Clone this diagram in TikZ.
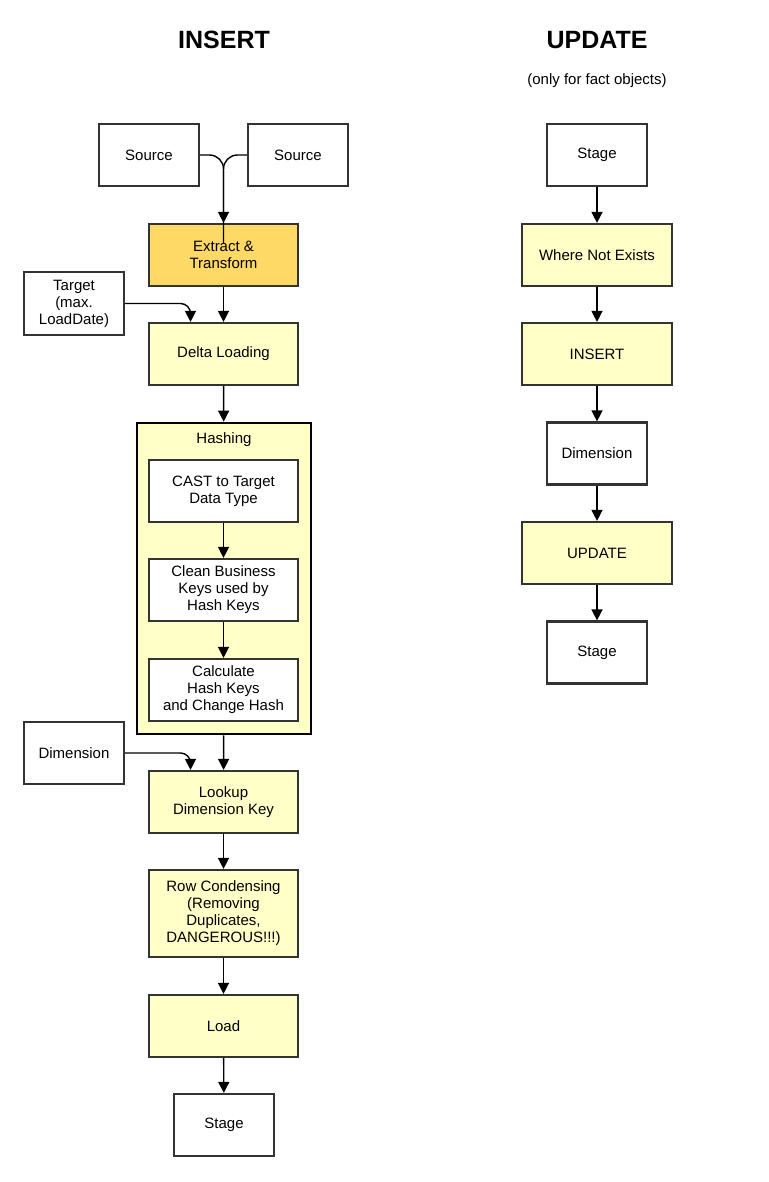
\documentclass[tikz,border=0pt]{standalone}
\usepackage{fontspec}
\setmainfont{Liberation Sans}
\usetikzlibrary{arrows.meta}
\definecolor{ly}{HTML}{FFFFC8}
\definecolor{og}{HTML}{FFD966}
\definecolor{bd}{HTML}{333333}
\begin{document}
\begin{tikzpicture}[x=1pt,y=-1pt,
  box/.style={draw=bd,line width=2.2pt,minimum height=62pt,align=center,font=\fontsize{15}{17}\selectfont,inner sep=2pt},
  wbox/.style={box,fill=white,minimum width=100pt},
  ybox/.style={box,fill=ly,minimum width=149pt},
  obox/.style={box,fill=og,minimum width=149pt},
  arr/.style={draw=black,line width=1.4pt,-{Triangle[length=11pt,width=11pt]}},
  ttl/.style={font=\fontsize{25}{30}\selectfont\bfseries}]
\useasboundingbox[fill=white] (0,0) rectangle (768,1182);
% titles
\node[ttl] (tins) at (224,40) {INSERT};
\node[ttl] (tupd) at (597,40) {UPDATE};
\node[font=\fontsize{15}{17}\selectfont] (sub) at (597,81) {(only for fact objects)};
% hashing container
\node[draw=black,line width=2.6pt,fill=ly,minimum width=174pt,minimum height=311pt] (hash) at (224,578.5) {};
\node[font=\fontsize{15}{17}\selectfont] (hlab) at (224,440) {Hashing};
% insert column
\node[wbox] (s1) at (149,155) {Source};
\node[wbox] (s2) at (298,155) {Source};
\node[obox] (et) at (223.5,255) {Extract \&\\Transform};
\node[wbox,minimum height=63pt] (tg) at (74,303.5) {Target\\(max.\\LoadDate)};
\node[ybox] (dl) at (223.5,354) {Delta Loading};
\node[wbox,minimum width=149pt,fill=white] (cast) at (223.5,491) {CAST to Target\\Data Type};
\node[wbox,minimum width=149pt,fill=white] (clean) at (223.5,590) {Clean Business\\Keys used by\\Hash Keys};
\node[wbox,minimum width=149pt,fill=white] (calc) at (223.5,690) {Calculate\\Hash Keys\\and Change Hash};
\node[wbox] (dim) at (74,753) {Dimension};
\node[ybox] (lk) at (223.5,802) {Lookup\\Dimension Key};
\node[ybox,minimum height=87pt] (rc) at (223.5,913.5) {Row Condensing\\(Removing\\Duplicates,\\DANGEROUS!!!)};
\node[ybox] (ld) at (223.5,1026) {Load};
\node[wbox] (st) at (224,1125) {Stage};
% update column
\node[wbox] (us) at (597,155) {Stage};
\node[ybox,minimum width=150pt] (wne) at (597,255) {Where Not Exists};
\node[ybox,minimum width=150pt] (uins) at (597,354) {INSERT};
\node[wbox] (udim) at (597,453.5) {Dimension};
\node[ybox,minimum width=150pt] (uupd) at (597,553) {UPDATE};
\node[wbox] (ust) at (597,652.5) {Stage};
% connectors insert
\draw[arr,rounded corners=14pt] (s1.east) -| (et.north);
\draw[line width=1.4pt,rounded corners=14pt] (s2.west) -| ([yshift=-20pt]et.north);
\draw[arr] (et) -- (dl);
\coordinate (tgin) at ([xshift=-33pt]dl.north);
\draw[arr,rounded corners=10pt] (tg.east) -| (tgin);
\draw[arr] (dl) -- (hash);
\draw[arr] (cast) -- (clean);
\draw[arr] (clean) -- (calc);
\draw[arr] (hash) -- (lk);
\coordinate (dimin) at ([xshift=-33pt]lk.north);
\draw[arr,rounded corners=10pt] (dim.east) -| (dimin);
\draw[arr] (lk) -- (rc);
\draw[arr] (rc) -- (ld);
\draw[arr] (ld) -- (st);
% connectors update
\draw[arr] (us) -- (wne);
\draw[arr] (wne) -- (uins);
\draw[arr] (uins) -- (udim);
\draw[arr] (udim) -- (uupd);
\draw[arr] (uupd) -- (ust);
\end{tikzpicture}
\end{document}
